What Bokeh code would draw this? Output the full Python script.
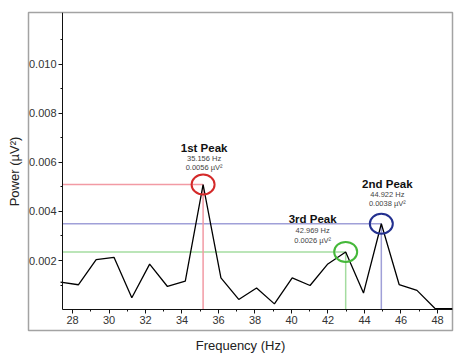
from bokeh.plotting import figure
from bokeh.models import Range1d, FixedTicker, NumeralTickFormatter, ColumnDataSource, LinearAxis
from bokeh.core.properties import value
from bokeh.embed import file_html
from bokeh.resources import INLINE

# ---- data ----
freq = [27.344, 28.320, 29.297, 30.273, 31.250, 32.227, 33.203, 34.180, 35.156,
        36.133, 37.109, 38.086, 39.063, 40.039, 41.016, 41.992, 42.969, 43.945,
        44.922, 45.898, 46.875, 47.852, 48.828]
power = [0.00112, 0.00101, 0.00204, 0.00213, 0.00048, 0.00185, 0.00094, 0.00116, 0.00510,
         0.00129, 0.00041, 0.00088, 0.00023, 0.00129, 0.00098, 0.00186, 0.00235, 0.00067,
         0.00350, 0.00102, 0.00078, 0.00005, 0.00003]

peak_names = ["1st Peak", "2nd Peak", "3rd Peak"]
peak_freq = [35.156, 44.922, 42.969]
peak_power = [0.00510, 0.00350, 0.00235]
peak_hz_labels = ["35.156 Hz", "44.922 Hz", "42.969 Hz"]
peak_pow_labels = ["0.0056 µV²", "0.0038 µV²", "0.0026 µV²"]

x_ticks = [28, 30, 32, 34, 36, 38, 40, 42, 44, 46, 48]
x_minor = [29, 31, 33, 35, 37, 39, 41, 43, 45, 47]
y_ticks = [0.002, 0.004, 0.006, 0.008, 0.010]
y_minor = [0.001, 0.003, 0.005, 0.007, 0.009, 0.011]

x_title = "Frequency (Hz)"
y_title = "Power (µV²)"

# axis extents (data) and outer frame extents (data)
AX_X0, AX_X1 = 27.452, 48.822
AX_Y0, AX_Y1 = 0.0, 0.012122
FR_X0, FR_Y0 = 25.589, -0.000857

FONT = "Liberation Sans"
circle_colors = ["#d42a2a", "#23308f", "#45b83a"]
guide_colors = ["#f29aa4", "#a0a0d8", "#a4dca0"]

p = figure(width=474, height=360, output_backend="svg", toolbar_location=None,
           x_range=Range1d(FR_X0, AX_X1), y_range=Range1d(FR_Y0, AX_Y1),
           min_border_left=28, min_border_right=22, min_border_top=12, min_border_bottom=30)
p.background_fill_color = "white"
p.border_fill_color = "white"
p.outline_line_color = "#a3a3a3"
p.outline_line_width = 1.5
p.grid.grid_line_color = None

p.xaxis.ticker = FixedTicker(ticks=x_ticks, minor_ticks=x_minor)
p.yaxis.ticker = FixedTicker(ticks=y_ticks, minor_ticks=y_minor)
p.yaxis.formatter = NumeralTickFormatter(format="0.000")
p.xaxis.fixed_location = AX_Y0
p.yaxis.fixed_location = AX_X0
p.xaxis.bounds = (AX_X0, AX_X1)
p.yaxis.bounds = (AX_Y0, AX_Y1)
for ax in (p.xaxis[0], p.yaxis[0]):
    ax.major_tick_out = 4
    ax.major_tick_in = 0
    ax.minor_tick_out = 2
    ax.minor_tick_in = 0
    ax.major_label_standoff = 2
    ax.major_label_text_font = FONT
    ax.major_label_text_font_size = "11px"
    ax.major_label_text_color = "#333333"
    ax.axis_line_color = "#111111"
    ax.major_tick_line_color = "#111111"
    ax.minor_tick_line_color = "#111111"

# title-only axes in the side panels
def title_axis(label, standoff):
    a = LinearAxis(ticker=FixedTicker(ticks=[]), axis_label=label,
                   axis_line_color=None, major_tick_line_color=None,
                   minor_tick_line_color=None, major_label_text_font_size="0px",
                   major_tick_out=0, minor_tick_out=0, major_label_standoff=0,
                   axis_label_standoff=standoff)
    a.axis_label_text_font = FONT
    a.axis_label_text_font_size = "13px"
    a.axis_label_text_font_style = "normal"
    a.axis_label_text_color = "#222222"
    return a

p.add_layout(title_axis(x_title, 7), "below")
p.add_layout(title_axis(y_title, 7), "left")

# guide lines
p.segment(x0=[AX_X0] * 3, y0=peak_power, x1=peak_freq, y1=peak_power,
          line_color=guide_colors, line_width=1.5)
p.segment(x0=peak_freq, y0=[AX_Y0] * 3, x1=peak_freq, y1=peak_power,
          line_color=guide_colors, line_width=1.5)

# spectrum
p.line(freq, power, line_color="black", line_width=1.3)

# circles
p.ellipse(x=peak_freq, y=peak_power, width=23, height=20,
          width_units="screen", height_units="screen",
          fill_color=None, line_color=circle_colors, line_width=2)

# annotations
src = ColumnDataSource(dict(x=peak_freq, y=peak_power, name=peak_names,
                            hz=peak_hz_labels, pw=peak_pow_labels,
                            dx=[1, 6, -33],
                            dy1=[-37, -40, -33], dy2=[-26, -29, -21], dy3=[-17, -20, -11]))
p.text(x="x", y="y", text="name", x_offset="dx", y_offset="dy1", source=src,
       text_font=value(FONT), text_font_size="11.5px", text_font_style="bold",
       text_color="#111111", text_align="center", text_baseline="middle")
p.text(x="x", y="y", text="hz", x_offset="dx", y_offset="dy2", source=src,
       text_font=value(FONT), text_font_size="7.5px",
       text_color="#444444", text_align="center", text_baseline="middle")
p.text(x="x", y="y", text="pw", x_offset="dx", y_offset="dy3", source=src,
       text_font=value(FONT), text_font_size="7.5px",
       text_color="#444444", text_align="center", text_baseline="middle")

open("out.html", "w").write(file_html(p, INLINE))
